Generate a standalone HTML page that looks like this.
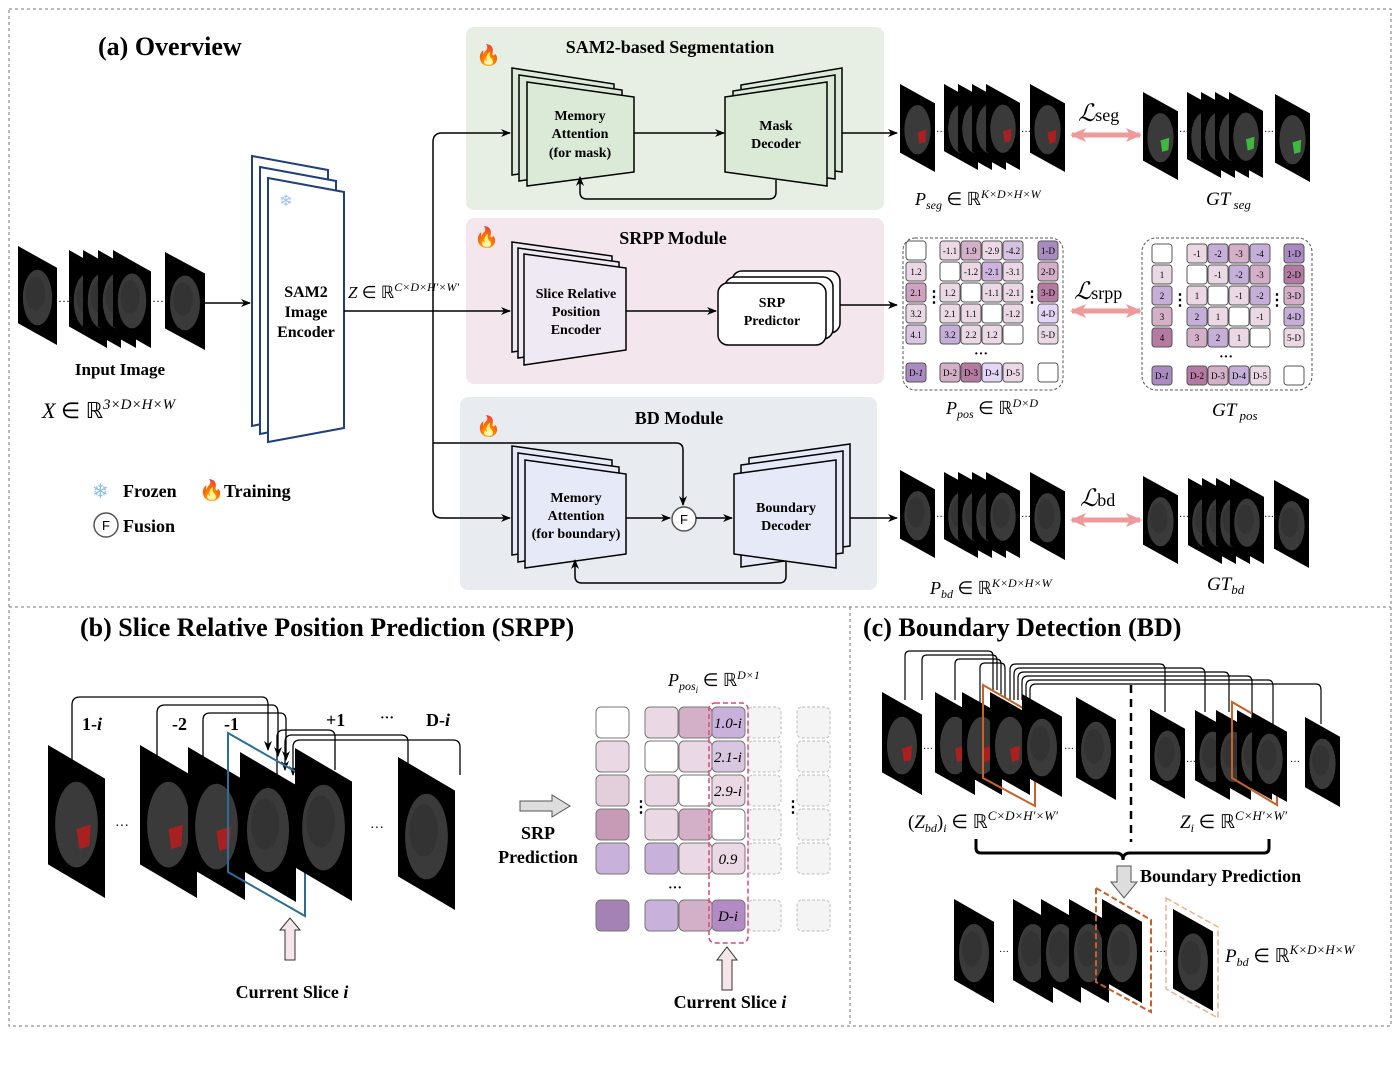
<!DOCTYPE html>
<html><head><meta charset="utf-8"><style>
html,body{margin:0;padding:0;background:#fff}
svg{display:block}
text{font-family:"Liberation Serif",serif}
.b{font-weight:bold}
.i{font-style:italic}
</style></head><body>
<svg width="1399" height="1078" viewBox="0 0 1399 1078" xmlns="http://www.w3.org/2000/svg">
<defs>
<symbol id="sl" viewBox="0 0 40 100" preserveAspectRatio="none">
<polygon points="0,0 40,22 40,100 0,78" fill="#000"/>
<ellipse cx="20" cy="52" rx="15" ry="28" fill="#3a3a3a"/>
<ellipse cx="18" cy="48" rx="10" ry="17" fill="#333"/>
</symbol>
<symbol id="slr" viewBox="0 0 40 100" preserveAspectRatio="none">
<polygon points="0,0 40,22 40,100 0,78" fill="#000"/>
<ellipse cx="20" cy="52" rx="15" ry="28" fill="#3a3a3a"/>
<path d="M20,55 L30,52 L29,66 L22,68 Z" fill="#a82020"/>
</symbol>
<symbol id="slg" viewBox="0 0 40 100" preserveAspectRatio="none">
<polygon points="0,0 40,22 40,100 0,78" fill="#000"/>
<ellipse cx="20" cy="52" rx="15" ry="28" fill="#3a3a3a"/>
<path d="M20,55 L30,52 L29,66 L22,68 Z" fill="#3fb83f"/>
</symbol>
<marker id="ar" markerWidth="10" markerHeight="8" refX="9" refY="4" orient="auto" markerUnits="userSpaceOnUse"><path d="M0,0 L10,4 L0,8 L3,4 Z" fill="#000"/></marker>
<marker id="ps" markerWidth="16" markerHeight="14" refX="14" refY="7" orient="auto" markerUnits="userSpaceOnUse"><path d="M0,0 L16,7 L0,14 L4,7 Z" fill="#ef9a9a"/></marker>
<marker id="pe" markerWidth="16" markerHeight="14" refX="2" refY="7" orient="auto" markerUnits="userSpaceOnUse"><path d="M16,0 L0,7 L16,14 L12,7 Z" fill="#ef9a9a"/></marker>
</defs>

<!-- frames -->
<rect x="9" y="9" width="1382" height="1017" fill="none" stroke="#777" stroke-dasharray="3,3"/>
<line x1="9" y1="607" x2="1391" y2="607" stroke="#777" stroke-dasharray="3,3"/>
<line x1="850" y1="607" x2="850" y2="1026" stroke="#777" stroke-dasharray="3,3"/>

<!-- panels -->
<rect x="466" y="27" width="418" height="183" rx="8" fill="#e7efe4"/>
<rect x="466" y="218" width="418" height="166" rx="8" fill="#f3e6ed"/>
<rect x="460" y="397" width="417" height="193" rx="8" fill="#e8ebf0"/>
<text x="670" y="53" text-anchor="middle" class="b" font-size="18">SAM2-based Segmentation</text>
<text x="673" y="244" text-anchor="middle" class="b" font-size="18">SRPP Module</text>
<text x="679" y="424" text-anchor="middle" class="b" font-size="18">BD Module</text>
<text x="476" y="62" font-size="20">🔥</text>
<text x="474" y="244" font-size="20">🔥</text>
<text x="476" y="433" font-size="20">🔥</text>

<text x="98" y="55" class="b" font-size="26">(a) Overview</text>

<!-- input -->
<use href="#sl" x="18" y="246" width="39" height="99"/>
<text x="58" y="305" font-size="12">···</text>
<use href="#sl" x="69" y="250" width="38" height="98"/>
<use href="#sl" x="83" y="250" width="38" height="98"/>
<use href="#sl" x="98" y="250" width="38" height="98"/>
<use href="#sl" x="113" y="250" width="38" height="98"/>
<text x="152" y="305" font-size="12">···</text>
<use href="#sl" x="165" y="252" width="40" height="98"/>
<line x1="205" y1="303" x2="250" y2="303" stroke="#000" stroke-width="1.5" marker-end="url(#ar)"/>
<text x="120" y="375" text-anchor="middle" class="b" font-size="17">Input Image</text>
<text x="42" y="418" class="i" font-size="22">X <tspan font-style="normal">∈ ℝ</tspan><tspan font-size="15" dy="-9">3×D×H×W</tspan></text>

<!-- encoder -->
<polygon points="252,156 328,170 328,410 252,426" fill="#fff" stroke="#1f3f7f" stroke-width="2"/>
<polygon points="260,167 336,181 336,419 260,434" fill="#fff" stroke="#1f3f7f" stroke-width="2"/>
<polygon points="268,178 344,192 344,428 268,442" fill="#fff" stroke="#1f3f7f" stroke-width="2"/>
<text x="286" y="206" text-anchor="middle" font-size="16" fill="#9cc4ea">❄</text>
<text x="306" y="297" text-anchor="middle" class="b" font-size="16">SAM2</text>
<text x="306" y="317" text-anchor="middle" class="b" font-size="16">Image</text>
<text x="306" y="337" text-anchor="middle" class="b" font-size="16">Encoder</text>
<text x="348" y="298" class="i" font-size="17">Z <tspan font-style="normal">∈ ℝ</tspan><tspan font-size="12" dy="-7">C×D×H′×W′</tspan></text>

<!-- trunk lines -->
<path d="M344,311 H433" stroke="#000" stroke-width="1.5" fill="none"/>
<path d="M442,133 Q433,133 433,142 V509 Q433,518 442,518 H510" stroke="#000" stroke-width="1.5" fill="none" marker-end="url(#ar)"/>
<line x1="442" y1="133" x2="510" y2="133" stroke="#000" stroke-width="1.5" marker-end="url(#ar)"/>
<line x1="433" y1="311" x2="510" y2="311" stroke="#000" stroke-width="1.5" marker-end="url(#ar)"/>
<path d="M433,443 H676 Q683,443 683,450 V505" stroke="#000" stroke-width="1.5" fill="none" marker-end="url(#ar)"/>

<!-- green content -->
<polygon points="512,68 614,84 614,160 512,175" fill="#dbe9d7" stroke="#000" stroke-width="1.5"/>
<polygon points="519,75 622,90 622,166 519,181" fill="#dbe9d7" stroke="#000" stroke-width="1.5"/>
<polygon points="527,82 634,97 634,172 527,186" fill="#dbe9d7" stroke="#000" stroke-width="1.5"/>
<text x="580" y="120" text-anchor="middle" class="b" font-size="14">Memory</text>
<text x="580" y="138" text-anchor="middle" class="b" font-size="14">Attention</text>
<text x="580" y="157" text-anchor="middle" class="b" font-size="14">(for mask)</text>
<line x1="634" y1="133" x2="724" y2="133" stroke="#000" stroke-width="1.5" marker-end="url(#ar)"/>
<polygon points="741,85 842,68 842,172 741,158" fill="#dbe9d7" stroke="#000" stroke-width="1.5"/>
<polygon points="733,91 835,75 835,179 733,165" fill="#dbe9d7" stroke="#000" stroke-width="1.5"/>
<polygon points="725,97 827,82 827,186 725,172" fill="#dbe9d7" stroke="#000" stroke-width="1.5"/>
<text x="776" y="130" text-anchor="middle" class="b" font-size="14">Mask</text>
<text x="776" y="148" text-anchor="middle" class="b" font-size="14">Decoder</text>
<path d="M776,180 V192 Q776,199 769,199 H587 Q580,199 580,192 V177" stroke="#000" stroke-width="1.5" fill="none" marker-end="url(#ar)"/>
<line x1="842" y1="133" x2="897" y2="133" stroke="#000" stroke-width="1.5" marker-end="url(#ar)"/>

<!-- SRPP content -->
<polygon points="512,242 612,256 612,338 512,352" fill="#efe9f3" stroke="#000" stroke-width="1.5"/>
<polygon points="518,248 619,262 619,344 518,358" fill="#efe9f3" stroke="#000" stroke-width="1.5"/>
<polygon points="524,254 626,268 626,350 524,365" fill="#efe9f3" stroke="#000" stroke-width="1.5"/>
<text x="576" y="298" text-anchor="middle" class="b" font-size="14">Slice Relative</text>
<text x="576" y="316" text-anchor="middle" class="b" font-size="14">Position</text>
<text x="576" y="334" text-anchor="middle" class="b" font-size="14">Encoder</text>
<line x1="626" y1="311" x2="716" y2="311" stroke="#000" stroke-width="1.5" marker-end="url(#ar)"/>
<rect x="732" y="271" width="108" height="62" rx="10" fill="#fff" stroke="#000" stroke-width="1.5"/>
<rect x="725" y="277" width="108" height="62" rx="10" fill="#fff" stroke="#000" stroke-width="1.5"/>
<rect x="718" y="283" width="108" height="62" rx="10" fill="#fff" stroke="#000" stroke-width="1.5"/>
<text x="772" y="307" text-anchor="middle" class="b" font-size="14">SRP</text>
<text x="772" y="325" text-anchor="middle" class="b" font-size="14">Predictor</text>
<line x1="840" y1="305" x2="897" y2="305" stroke="#000" stroke-width="1.5" marker-end="url(#ar)"/>

<!-- BD content -->
<polygon points="512,446 612,460 612,540 512,555" fill="#e6e9f7" stroke="#000" stroke-width="1.5"/>
<polygon points="518,453 619,467 619,547 518,562" fill="#e6e9f7" stroke="#000" stroke-width="1.5"/>
<polygon points="525,460 626,474 626,554 525,568" fill="#e6e9f7" stroke="#000" stroke-width="1.5"/>
<text x="576" y="502" text-anchor="middle" class="b" font-size="14">Memory</text>
<text x="576" y="520" text-anchor="middle" class="b" font-size="14">Attention</text>
<text x="576" y="538" text-anchor="middle" class="b" font-size="14">(for boundary)</text>
<line x1="626" y1="518" x2="670" y2="518" stroke="#000" stroke-width="1.5" marker-end="url(#ar)"/>
<circle cx="684" cy="519" r="12" fill="#fff" stroke="#555" stroke-width="1.5"/>
<text x="684" y="524" text-anchor="middle" font-size="13" style="font-family:'Liberation Sans',sans-serif">F</text>
<line x1="696" y1="518" x2="732" y2="518" stroke="#000" stroke-width="1.5" marker-end="url(#ar)"/>
<polygon points="749,458 850,444 850,546 749,560" fill="#e6e9f7" stroke="#000" stroke-width="1.5"/>
<polygon points="741,465 843,451 843,553 741,567" fill="#e6e9f7" stroke="#000" stroke-width="1.5"/>
<polygon points="734,474 836,460 836,568 734,554" fill="#e6e9f7" stroke="#000" stroke-width="1.5"/>
<text x="786" y="512" text-anchor="middle" class="b" font-size="14">Boundary</text>
<text x="786" y="530" text-anchor="middle" class="b" font-size="14">Decoder</text>
<path d="M786,562 V576 Q786,583 779,583 H582 Q575,583 575,576 V560" stroke="#000" stroke-width="1.5" fill="none" marker-end="url(#ar)"/>
<line x1="850" y1="518" x2="897" y2="518" stroke="#000" stroke-width="1.5" marker-end="url(#ar)"/>

<!-- legend -->
<text x="92" y="498" font-size="20" fill="#8cc0ea">❄</text>
<text x="123" y="497" class="b" font-size="18">Frozen</text>
<text x="199" y="497" font-size="20">🔥</text>
<text x="224" y="497" class="b" font-size="18">Training</text>
<circle cx="106" cy="525" r="12" fill="#fff" stroke="#555" stroke-width="1.5"/>
<text x="106" y="530" text-anchor="middle" font-size="13" style="font-family:'Liberation Sans',sans-serif">F</text>
<text x="123" y="532" class="b" font-size="18">Fusion</text>

<!-- seg outputs -->
<use href="#slr" x="900" y="84" width="35" height="88"/>
<text x="936" y="135" font-size="10">···</text>
<use href="#slr" x="944" y="84" width="34" height="86"/>
<use href="#slr" x="958" y="84" width="34" height="86"/>
<use href="#slr" x="972" y="84" width="34" height="86"/>
<use href="#slr" x="986" y="84" width="34" height="86"/>
<text x="1021" y="135" font-size="10">···</text>
<use href="#slr" x="1030" y="84" width="35" height="88"/>
<line x1="1072" y1="135" x2="1140" y2="135" stroke="#ef9a9a" stroke-width="5" marker-end="url(#ps)" marker-start="url(#pe)"/>
<text x="1078" y="121" class="i" font-size="24">ℒ<tspan font-style="normal" font-size="18">seg</tspan></text>
<use href="#slg" x="1143" y="92" width="35" height="88"/>
<text x="1179" y="135" font-size="10">···</text>
<use href="#slg" x="1187" y="92" width="34" height="86"/>
<use href="#slg" x="1201" y="92" width="34" height="86"/>
<use href="#slg" x="1215" y="92" width="34" height="86"/>
<use href="#slg" x="1229" y="92" width="34" height="86"/>
<text x="1264" y="135" font-size="10">···</text>
<use href="#slg" x="1275" y="94" width="35" height="88"/>
<text x="915" y="205" class="i" font-size="18">P<tspan font-size="12" dy="4">seg</tspan><tspan dy="-4" font-style="normal"> ∈ ℝ</tspan><tspan font-size="12" dy="-7">K×D×H×W</tspan></text>
<text x="1206" y="205" class="i" font-size="19">GT<tspan font-size="13" dy="4"> seg</tspan></text>

<!-- bd outputs -->
<use href="#sl" x="900" y="470" width="35" height="88"/>
<text x="936" y="520" font-size="10">···</text>
<use href="#sl" x="944" y="472" width="34" height="86"/>
<use href="#sl" x="958" y="472" width="34" height="86"/>
<use href="#sl" x="972" y="472" width="34" height="86"/>
<use href="#sl" x="986" y="472" width="34" height="86"/>
<text x="1021" y="520" font-size="10">···</text>
<use href="#sl" x="1030" y="472" width="35" height="88"/>
<line x1="1072" y1="520" x2="1140" y2="520" stroke="#ef9a9a" stroke-width="5" marker-end="url(#ps)" marker-start="url(#pe)"/>
<text x="1080" y="506" class="i" font-size="24">ℒ<tspan font-style="normal" font-size="18">bd</tspan></text>
<use href="#sl" x="1143" y="476" width="35" height="88"/>
<text x="1179" y="520" font-size="10">···</text>
<use href="#sl" x="1188" y="478" width="34" height="86"/>
<use href="#sl" x="1202" y="478" width="34" height="86"/>
<use href="#sl" x="1216" y="478" width="34" height="86"/>
<use href="#sl" x="1230" y="478" width="34" height="86"/>
<text x="1264" y="520" font-size="10">···</text>
<use href="#sl" x="1274" y="480" width="35" height="88"/>
<text x="930" y="594" class="i" font-size="18">P<tspan font-size="12" dy="4">bd</tspan><tspan dy="-4" font-style="normal"> ∈ ℝ</tspan><tspan font-size="12" dy="-7">K×D×H×W</tspan></text>
<text x="1207" y="590" class="i" font-size="19">GT<tspan font-size="13" dy="4">bd</tspan></text>

<!-- Ppos matrix -->
<g font-size="9" text-anchor="middle" style="font-family:'Liberation Serif',serif">
<rect x="903" y="238" width="160" height="152" rx="12" fill="none" stroke="#555" stroke-dasharray="3,2"/>
<g stroke="#555" stroke-width="1">
<rect x="906" y="241" width="20" height="19" rx="3" fill="#fff"/>
<rect x="906" y="262" width="20" height="19" rx="3" fill="#ead9e4"/>
<rect x="906" y="283" width="20" height="19" rx="3" fill="#cfa3bf"/>
<rect x="906" y="304" width="20" height="19" rx="3" fill="#ead9e4"/>
<rect x="906" y="325" width="20" height="19" rx="3" fill="#d9c7e2"/>
<rect x="906" y="363" width="20" height="19" rx="3" fill="#a98bc2"/>
<rect x="940" y="241" width="20" height="19" rx="3" fill="#ead9e4"/>
<rect x="961" y="241" width="20" height="19" rx="3" fill="#d4b0c8"/>
<rect x="982" y="241" width="20" height="19" rx="3" fill="#ead9e4"/>
<rect x="1003" y="241" width="20" height="19" rx="3" fill="#d6c3e2"/>
<rect x="940" y="262" width="20" height="19" rx="3" fill="#fff"/>
<rect x="961" y="262" width="20" height="19" rx="3" fill="#ead9e4"/>
<rect x="982" y="262" width="20" height="19" rx="3" fill="#cdb4dc"/>
<rect x="1003" y="262" width="20" height="19" rx="3" fill="#ead9e4"/>
<rect x="940" y="283" width="20" height="19" rx="3" fill="#ead9e4"/>
<rect x="961" y="283" width="20" height="19" rx="3" fill="#fff"/>
<rect x="982" y="283" width="20" height="19" rx="3" fill="#ead9e4"/>
<rect x="1003" y="283" width="20" height="19" rx="3" fill="#ead9e4"/>
<rect x="940" y="304" width="20" height="19" rx="3" fill="#ead9e4"/>
<rect x="961" y="304" width="20" height="19" rx="3" fill="#ead9e4"/>
<rect x="982" y="304" width="20" height="19" rx="3" fill="#fff"/>
<rect x="1003" y="304" width="20" height="19" rx="3" fill="#ead9e4"/>
<rect x="940" y="325" width="20" height="19" rx="3" fill="#c5aed8"/>
<rect x="961" y="325" width="20" height="19" rx="3" fill="#ead9e4"/>
<rect x="982" y="325" width="20" height="19" rx="3" fill="#ead9e4"/>
<rect x="1003" y="325" width="20" height="19" rx="3" fill="#fff"/>
<rect x="940" y="363" width="20" height="19" rx="3" fill="#d4b0c8"/>
<rect x="961" y="363" width="20" height="19" rx="3" fill="#b47aa2"/>
<rect x="982" y="363" width="20" height="19" rx="3" fill="#e4d6f6"/>
<rect x="1003" y="363" width="20" height="19" rx="3" fill="#ead9e4"/>
<rect x="1038" y="241" width="20" height="19" rx="3" fill="#a98bc2"/>
<rect x="1038" y="262" width="20" height="19" rx="3" fill="#d4b0c8"/>
<rect x="1038" y="283" width="20" height="19" rx="3" fill="#b47aa2"/>
<rect x="1038" y="304" width="20" height="19" rx="3" fill="#e4d6f6"/>
<rect x="1038" y="325" width="20" height="19" rx="3" fill="#ead9e4"/>
<rect x="1038" y="363" width="20" height="19" rx="3" fill="#fff"/>
</g>
<text x="916" y="275">1.2</text><text x="916" y="296">2.1</text><text x="916" y="317">3.2</text><text x="916" y="338">4.1</text><text x="916" y="376">D-<tspan font-style="italic">1</tspan></text>
<text x="950" y="254">-1.1</text><text x="971" y="254">1.9</text><text x="992" y="254">-2.9</text><text x="1013" y="254">-4.2</text>
<text x="971" y="275">-1.2</text><text x="992" y="275">-2.1</text><text x="1013" y="275">-3.1</text>
<text x="950" y="296">1.2</text><text x="992" y="296">-1.1</text><text x="1013" y="296">-2.1</text>
<text x="950" y="317">2.1</text><text x="971" y="317">1.1</text><text x="1013" y="317">-1.2</text>
<text x="950" y="338">3.2</text><text x="971" y="338">2.2</text><text x="992" y="338">1.2</text>
<text x="950" y="376">D-2</text><text x="971" y="376">D-3</text><text x="992" y="376">D-4</text><text x="1013" y="376">D-5</text>
<text x="1048" y="254">1-D</text><text x="1048" y="275">2-D</text><text x="1048" y="296">3-D</text><text x="1048" y="317">4-D</text><text x="1048" y="338">5-D</text>
<text x="934" y="302" font-size="16" class="b">⋮</text><text x="1032" y="302" font-size="16" class="b">⋮</text>
<text x="981" y="358" font-size="14" class="b">···</text>

<!-- GT pos -->
<rect x="1142" y="238" width="170" height="152" rx="14" fill="none" stroke="#555" stroke-dasharray="3,2"/>
<g stroke="#555" stroke-width="1">
<rect x="1152" y="244" width="20" height="19" rx="3" fill="#fff"/>
<rect x="1152" y="265" width="20" height="19" rx="3" fill="#ead9e4"/>
<rect x="1152" y="286" width="20" height="19" rx="3" fill="#c5aed8"/>
<rect x="1152" y="307" width="20" height="19" rx="3" fill="#d4b0c8"/>
<rect x="1152" y="328" width="20" height="19" rx="3" fill="#b47aa2"/>
<rect x="1152" y="366" width="20" height="19" rx="3" fill="#a98bc2"/>
<rect x="1187" y="244" width="20" height="19" rx="3" fill="#ead9e4"/>
<rect x="1208" y="244" width="20" height="19" rx="3" fill="#c5aed8"/>
<rect x="1229" y="244" width="20" height="19" rx="3" fill="#d4b0c8"/>
<rect x="1250" y="244" width="20" height="19" rx="3" fill="#c5aed8"/>
<rect x="1187" y="265" width="20" height="19" rx="3" fill="#fff"/>
<rect x="1208" y="265" width="20" height="19" rx="3" fill="#ead9e4"/>
<rect x="1229" y="265" width="20" height="19" rx="3" fill="#c5aed8"/>
<rect x="1250" y="265" width="20" height="19" rx="3" fill="#d4b0c8"/>
<rect x="1187" y="286" width="20" height="19" rx="3" fill="#ead9e4"/>
<rect x="1208" y="286" width="20" height="19" rx="3" fill="#fff"/>
<rect x="1229" y="286" width="20" height="19" rx="3" fill="#ead9e4"/>
<rect x="1250" y="286" width="20" height="19" rx="3" fill="#c5aed8"/>
<rect x="1187" y="307" width="20" height="19" rx="3" fill="#c5aed8"/>
<rect x="1208" y="307" width="20" height="19" rx="3" fill="#ead9e4"/>
<rect x="1229" y="307" width="20" height="19" rx="3" fill="#fff"/>
<rect x="1250" y="307" width="20" height="19" rx="3" fill="#ead9e4"/>
<rect x="1187" y="328" width="20" height="19" rx="3" fill="#d4b0c8"/>
<rect x="1208" y="328" width="20" height="19" rx="3" fill="#c5aed8"/>
<rect x="1229" y="328" width="20" height="19" rx="3" fill="#ead9e4"/>
<rect x="1250" y="328" width="20" height="19" rx="3" fill="#fff"/>
<rect x="1187" y="366" width="20" height="19" rx="3" fill="#b47aa2"/>
<rect x="1208" y="366" width="20" height="19" rx="3" fill="#d4b0c8"/>
<rect x="1229" y="366" width="20" height="19" rx="3" fill="#c5aed8"/>
<rect x="1250" y="366" width="20" height="19" rx="3" fill="#ead9e4"/>
<rect x="1284" y="244" width="20" height="19" rx="3" fill="#a98bc2"/>
<rect x="1284" y="265" width="20" height="19" rx="3" fill="#b47aa2"/>
<rect x="1284" y="286" width="20" height="19" rx="3" fill="#d4b0c8"/>
<rect x="1284" y="307" width="20" height="19" rx="3" fill="#c5aed8"/>
<rect x="1284" y="328" width="20" height="19" rx="3" fill="#ead9e4"/>
<rect x="1284" y="366" width="20" height="19" rx="3" fill="#fff"/>
</g>
<text x="1162" y="278">1</text><text x="1162" y="299">2</text><text x="1162" y="320">3</text><text x="1162" y="341">4</text><text x="1162" y="379">D-<tspan font-style="italic">1</tspan></text>
<text x="1197" y="257">-1</text><text x="1218" y="257">-2</text><text x="1239" y="257">-3</text><text x="1260" y="257">-4</text>
<text x="1218" y="278">-1</text><text x="1239" y="278">-2</text><text x="1260" y="278">-3</text>
<text x="1197" y="299">1</text><text x="1239" y="299">-1</text><text x="1260" y="299">-2</text>
<text x="1197" y="320">2</text><text x="1218" y="320">1</text><text x="1260" y="320">-1</text>
<text x="1197" y="341">3</text><text x="1218" y="341">2</text><text x="1239" y="341">1</text>
<text x="1197" y="379">D-2</text><text x="1218" y="379">D-3</text><text x="1239" y="379">D-4</text><text x="1260" y="379">D-5</text>
<text x="1294" y="257">1-D</text><text x="1294" y="278">2-D</text><text x="1294" y="299">3-D</text><text x="1294" y="320">4-D</text><text x="1294" y="341">5-D</text>
<text x="1180" y="305" font-size="16" class="b">⋮</text><text x="1277" y="305" font-size="16" class="b">⋮</text>
<text x="1226" y="361" font-size="14" class="b">···</text>
</g>
<line x1="1072" y1="311" x2="1140" y2="311" stroke="#ef9a9a" stroke-width="5" marker-end="url(#ps)" marker-start="url(#pe)"/>
<text x="1074" y="299" class="i" font-size="24">ℒ<tspan font-style="normal" font-size="18">srpp</tspan></text>
<text x="946" y="414" class="i" font-size="18">P<tspan font-size="12" dy="4">pos</tspan><tspan dy="-4" font-style="normal"> ∈ ℝ</tspan><tspan font-size="12" dy="-7">D×D</tspan></text>
<text x="1212" y="416" class="i" font-size="19">GT<tspan font-size="13" dy="4"> pos</tspan></text>

<!-- (b) -->
<text x="80" y="636" class="b" font-size="26">(b) Slice Relative Position Prediction (SRPP)</text>
<g stroke="#000" stroke-width="1.3" fill="none">
<path d="M72,760 V705 Q72,697 80,697 H262 Q268,697 268,705 V750" marker-end="url(#ar)"/>
<path d="M157,760 V713 Q157,705 165,705 H272 Q278,705 278,713 V756" marker-end="url(#ar)"/>
<path d="M203,760 V720 Q203,713 210,713 H280 Q286,713 286,720 V760" marker-end="url(#ar)"/>
<path d="M335,770 V737 Q335,730 328,730 H284 Q277,730 277,737 V775" />
<path d="M408,780 V742 Q408,735 401,735 H292 Q285,735 285,742 V770" marker-end="url(#ar)"/>
<path d="M460,775 V747 Q460,740 453,740 H300 Q293,740 293,747 V775" marker-end="url(#ar)"/>
</g>
<use href="#slr" x="48" y="745" width="57" height="153"/>
<text x="115" y="830" font-size="14">···</text>
<use href="#slr" x="140" y="745" width="57" height="153"/>
<use href="#slr" x="188" y="747" width="57" height="153"/>
<use href="#sl" x="240" y="752" width="56" height="150"/>
<polygon points="228,733 305,777 305,916 228,872" fill="none" stroke="#2e6e96" stroke-width="2"/>
<use href="#sl" x="295" y="748" width="57" height="153"/>
<text x="370" y="832" font-size="14">···</text>
<use href="#sl" x="398" y="757" width="57" height="153"/>
<text x="82" y="730" class="b" font-size="18">1-<tspan font-style="italic">i</tspan></text>
<text x="172" y="730" class="b" font-size="18">-2</text>
<text x="224" y="730" class="b" font-size="18">-1</text>
<text x="326" y="726" class="b" font-size="18">+1</text>
<text x="380" y="722" class="b" font-size="14">···</text>
<text x="426" y="726" class="b" font-size="18">D-<tspan font-style="italic">i</tspan></text>
<path d="M285,960 V930 H280 L290,918 L300,930 H295 V960 Z" fill="#f6e6ea" stroke="#333"/>
<text x="292" y="998" text-anchor="middle" class="b" font-size="18">Current Slice <tspan font-style="italic">i</tspan></text>
<path d="M520,801 H552 V795 L570,806 L552,817 V811 H520 Z" fill="#ddd" stroke="#555"/>
<text x="538" y="839" text-anchor="middle" class="b" font-size="18">SRP</text>
<text x="538" y="863" text-anchor="middle" class="b" font-size="18">Prediction</text>

<!-- (b) matrix -->
<text x="668" y="686" class="i" font-size="18">P<tspan font-size="12" dy="4">pos</tspan><tspan font-size="9" dy="3">i</tspan><tspan dy="-7" font-style="normal"> ∈ ℝ</tspan><tspan font-size="12" dy="-7">D×1</tspan></text>
<g stroke="#777" stroke-width="1">
<rect x="596" y="707" width="33" height="31" rx="5" fill="#fff"/>
<rect x="596" y="741" width="33" height="31" rx="5" fill="#ead9e4"/>
<rect x="596" y="775" width="33" height="31" rx="5" fill="#e3cfdc"/>
<rect x="596" y="809" width="33" height="31" rx="5" fill="#c79ab6"/>
<rect x="596" y="843" width="33" height="31" rx="5" fill="#c8b2dc"/>
<rect x="596" y="900" width="33" height="31" rx="5" fill="#a582b5"/>
<rect x="645" y="707" width="33" height="31" rx="5" fill="#ead9e4"/>
<rect x="679" y="707" width="33" height="31" rx="5" fill="#d4b0c8"/>
<rect x="645" y="741" width="33" height="31" rx="5" fill="#fff"/>
<rect x="679" y="741" width="33" height="31" rx="5" fill="#ead9e4"/>
<rect x="645" y="775" width="33" height="31" rx="5" fill="#ead9e4"/>
<rect x="679" y="775" width="33" height="31" rx="5" fill="#fff"/>
<rect x="645" y="809" width="33" height="31" rx="5" fill="#ead9e4"/>
<rect x="679" y="809" width="33" height="31" rx="5" fill="#d4b0c8"/>
<rect x="645" y="843" width="33" height="31" rx="5" fill="#c8b2dc"/>
<rect x="679" y="843" width="33" height="31" rx="5" fill="#ead9e4"/>
<rect x="645" y="900" width="33" height="31" rx="5" fill="#c8b2dc"/>
<rect x="679" y="900" width="33" height="31" rx="5" fill="#d4b0c8"/>
<rect x="712" y="707" width="33" height="31" rx="5" fill="#c8b2dc"/>
<rect x="712" y="741" width="33" height="31" rx="5" fill="#d9c7e2"/>
<rect x="712" y="775" width="33" height="31" rx="5" fill="#ead9e4"/>
<rect x="712" y="809" width="33" height="31" rx="5" fill="#fff"/>
<rect x="712" y="843" width="33" height="31" rx="5" fill="#ead9e4"/>
<rect x="712" y="900" width="33" height="31" rx="5" fill="#b28ac4"/>
</g>
<g stroke="#bbb" stroke-dasharray="3,2" fill="#f4f4f4">
<rect x="748" y="707" width="33" height="31" rx="5"/><rect x="748" y="741" width="33" height="31" rx="5"/><rect x="748" y="775" width="33" height="31" rx="5"/><rect x="748" y="809" width="33" height="31" rx="5"/><rect x="748" y="843" width="33" height="31" rx="5"/><rect x="748" y="900" width="33" height="31" rx="5"/>
<rect x="797" y="707" width="33" height="31" rx="5"/><rect x="797" y="741" width="33" height="31" rx="5"/><rect x="797" y="775" width="33" height="31" rx="5"/><rect x="797" y="809" width="33" height="31" rx="5"/><rect x="797" y="843" width="33" height="31" rx="5"/><rect x="797" y="900" width="33" height="31" rx="5"/>
</g>
<rect x="709" y="703" width="39" height="240" rx="6" fill="none" stroke="#e0457a" stroke-width="1.5" stroke-dasharray="5,3"/>
<g class="i" font-size="15" text-anchor="middle">
<text x="728" y="728">1.0-<tspan>i</tspan></text><text x="728" y="762">2.1-i</text><text x="728" y="796">2.9-i</text><text x="728" y="864">0.9</text><text x="728" y="921">D-i</text>
</g>
<text x="633" y="812" font-size="16" class="b">⋮</text><text x="785" y="812" font-size="16" class="b">⋮</text>
<text x="668" y="892" font-size="14" class="b">···</text>
<path d="M722,990 V960 H717 L727,947 L737,960 H732 V990 Z" fill="#f6e6ea" stroke="#333"/>
<text x="730" y="1008" text-anchor="middle" class="b" font-size="18">Current Slice <tspan font-style="italic">i</tspan></text>

<!-- (c) -->
<text x="863" y="636" class="b" font-size="26">(c) Boundary Detection (BD)</text>
<g stroke="#000" stroke-width="1.2" fill="none">
<path d="M905,700 V656 Q905,651 910,651 H988 Q993,651 993,656 V690"/>
<path d="M922,700 V660 Q922,655 927,655 H992 Q997,655 997,660 V690"/>
<path d="M955,700 V664 Q955,659 960,659 H996 Q1001,659 1001,664 V694"/>
<path d="M980,705 V668 Q980,663 985,663 H1000 Q1005,663 1005,668 V698"/>
<path d="M1010,700 V670 Q1010,664 1016,664 H1160 Q1165,664 1165,670 V712"/>
<path d="M1014,700 V674 Q1014,668 1020,668 H1200 Q1205,668 1205,674 V712"/>
<path d="M1018,700 V678 Q1018,672 1024,672 H1224 Q1229,672 1229,678 V712"/>
<path d="M1022,700 V682 Q1022,676 1028,676 H1247 Q1252,676 1252,682 V720"/>
<path d="M1026,700 V686 Q1026,680 1032,680 H1268 Q1273,680 1273,686 V724"/>
<path d="M1030,700 V690 Q1030,684 1036,684 H1316 Q1321,684 1321,690 V724"/>
</g>
<use href="#slr" x="882" y="692" width="40" height="103"/>
<text x="923" y="752" font-size="10">···</text>
<use href="#slr" x="935" y="692" width="40" height="103"/>
<use href="#slr" x="962" y="692" width="40" height="103"/>
<use href="#slr" x="990" y="692" width="40" height="103"/>
<polygon points="983,685 1035,715 1035,806 983,778" fill="none" stroke="#c8602a" stroke-width="2"/>
<use href="#sl" x="1022" y="694" width="40" height="103"/>
<text x="1064" y="752" font-size="10">···</text>
<use href="#sl" x="1076" y="697" width="40" height="103"/>
<line x1="1131" y1="685" x2="1131" y2="842" stroke="#000" stroke-width="2.5" stroke-dasharray="8,6"/>
<use href="#sl" x="1150" y="709" width="35" height="90"/>
<text x="1186" y="765" font-size="10">···</text>
<use href="#sl" x="1195" y="710" width="35" height="90"/>
<use href="#sl" x="1216" y="710" width="35" height="90"/>
<use href="#sl" x="1237" y="710" width="35" height="90"/>
<polygon points="1232,702 1277,728 1277,805 1232,778" fill="none" stroke="#c8602a" stroke-width="2"/>
<use href="#sl" x="1252" y="712" width="35" height="90"/>
<text x="1290" y="765" font-size="10">···</text>
<use href="#sl" x="1305" y="717" width="35" height="90"/>
<text x="908" y="828" class="i" font-size="19"><tspan font-style="normal">(</tspan>Z<tspan font-size="12" dy="4">bd</tspan><tspan dy="-4" font-style="normal">)</tspan><tspan font-size="12" dy="4">i</tspan><tspan dy="-4" font-style="normal"> ∈ ℝ</tspan><tspan font-size="13" dy="-8">C×D×H′×W′</tspan></text>
<text x="1180" y="828" class="i" font-size="19">Z<tspan font-size="12" dy="4">i</tspan><tspan dy="-4" font-style="normal"> ∈ ℝ</tspan><tspan font-size="13" dy="-8">C×H′×W′</tspan></text>
<path d="M976,839 V848 Q976,853 981,853 H1116 Q1123,853 1123,860 Q1123,853 1130,853 H1264 Q1269,853 1269,848 V839" fill="none" stroke="#000" stroke-width="3"/>
<path d="M1117,866 V882 H1111 L1124,898 L1137,882 H1131 V866 Z" fill="#ddd" stroke="#555"/>
<text x="1140" y="882" class="b" font-size="18">Boundary Prediction</text>
<use href="#sl" x="954" y="899" width="40" height="104"/>
<text x="999" y="955" font-size="10">···</text>
<use href="#sl" x="1013" y="899" width="40" height="104"/>
<use href="#sl" x="1041" y="899" width="40" height="104"/>
<use href="#sl" x="1069" y="899" width="40" height="104"/>
<polygon points="1096,888 1151,920 1151,1012 1096,982" fill="none" stroke="#c8602a" stroke-width="2" stroke-dasharray="6,3"/>
<use href="#sl" x="1102" y="899" width="40" height="104"/>
<text x="1156" y="955" font-size="10">···</text>
<polygon points="1166,898 1218,927 1218,1018 1166,989" fill="none" stroke="#f0b090" stroke-width="1.5" stroke-dasharray="6,3"/>
<use href="#sl" x="1173" y="909" width="40" height="102"/>
<text x="1225" y="962" class="i" font-size="19">P<tspan font-size="12" dy="4">bd</tspan><tspan dy="-4" font-style="normal"> ∈ ℝ</tspan><tspan font-size="13" dy="-8">K×D×H×W</tspan></text>
</svg>
</body></html>
